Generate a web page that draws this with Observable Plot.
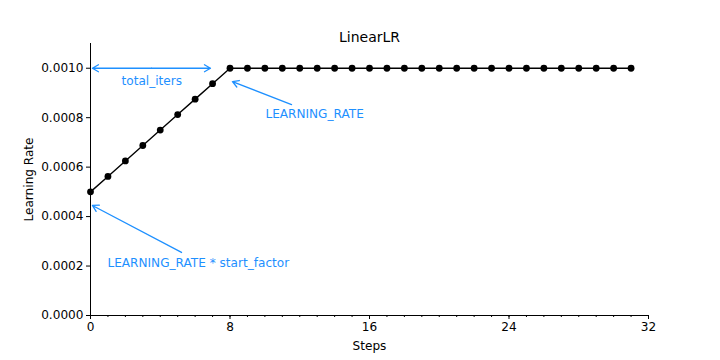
<!DOCTYPE html>
<html>
<head>
<meta charset="utf-8">
<script src="https://cdn.jsdelivr.net/npm/d3@7"></script>
<script src="https://cdn.jsdelivr.net/npm/@observablehq/plot@0.6"></script>
<style>
  html, body { margin: 0; padding: 0; background: #fff; }
  #chart svg { font-family: "DejaVu Sans", sans-serif; }
</style>
</head>
<body>
<div id="chart"></div>
<script>
const steps = [0,1,2,3,4,5,6,7,8,9,10,11,12,13,14,15,16,17,18,19,20,21,22,23,24,25,26,27,28,29,30,31];
const lr = [0.0005,0.0005625,0.000625,0.0006875,0.00075,0.0008125,0.000875,0.0009375,
            0.001,0.001,0.001,0.001,0.001,0.001,0.001,0.001,0.001,0.001,0.001,0.001,
            0.001,0.001,0.001,0.001,0.001,0.001,0.001,0.001,0.001,0.001,0.001,0.001];
const xTicks = [0, 8, 16, 24, 32];
const yTicks = [0, 0.0002, 0.0004, 0.0006, 0.0008, 0.0010];

// annotations
const arrowStarts = [[3.5, 0.001], [3.5, 0.001], [11.53, 0.000853], [5.22, 0.000255]];
const arrowEnds   = [[0.11, 0.001], [6.88, 0.001], [8.14, 0.000946], [0.11, 0.000445]];
const noteTexts = ["total_iters", "LEARNING_RATE", "LEARNING_RATE * start_factor"];
const noteX = [1.78, 10.03, 0.97];
const noteY = [0.000946, 0.000813, 0.00021];

const data = steps.map((s, i) => ({step: s, lr: lr[i]}));
const arrows = arrowStarts.map((a, i) => ({x1: a[0], y1: a[1], x2: arrowEnds[i][0], y2: arrowEnds[i][1]}));
const notes = noteTexts.map((t, i) => ({text: t, x: noteX[i], y: noteY[i]}));
const blue = "#1e90ff";
const fs = 12.1;

const chart = Plot.plot({
  width: 720,
  height: 360,
  marginLeft: 90,
  marginRight: 72,
  marginTop: 43,
  marginBottom: 45,
  style: {fontFamily: "DejaVu Sans, sans-serif", fontSize: fs + "px", color: "#000", background: "#fff"},
  x: {domain: [0, 32]},
  y: {domain: [0, 0.0011]},
  marks: [
    Plot.ruleX([0], {stroke: "#000", strokeWidth: 1}),
    Plot.ruleY([0], {stroke: "#000", strokeWidth: 1}),
    Plot.axisX({ticks: steps.concat([32]), tickSize: 2, tickFormat: () => "", label: null, strokeOpacity: 1}),
    Plot.axisX({ticks: xTicks, tickSize: 4, tickPadding: 3, tickFormat: d3.format("d"), label: "Steps", labelAnchor: "center", labelArrow: "none", labelOffset: 34, strokeOpacity: 1, fontSize: fs}),
    Plot.axisY({ticks: yTicks, tickSize: 4, tickPadding: 3, tickFormat: d3.format(".4f"), label: "Learning Rate", labelAnchor: "center", labelArrow: "none", labelOffset: 66, strokeOpacity: 1, fontSize: fs}),
    Plot.line(data, {x: "step", y: "lr", stroke: "#000", strokeWidth: 1.4}),
    Plot.dot(data, {x: "step", y: "lr", fill: "#000", r: 3.4}),
    Plot.arrow(arrows, {x1: "x1", y1: "y1", x2: "x2", y2: "y2", bend: 0, stroke: blue, strokeWidth: 1.3, headLength: 8, inset: 0}),
    Plot.text(notes, {x: "x", y: "y", text: "text", fill: blue, textAnchor: "start", fontSize: fs}),
    Plot.text(["LinearLR"], {frameAnchor: "top", dy: -11, fontSize: 14, fill: "#000"})
  ]
});
document.getElementById("chart").appendChild(chart);
</script>
</body>
</html>
